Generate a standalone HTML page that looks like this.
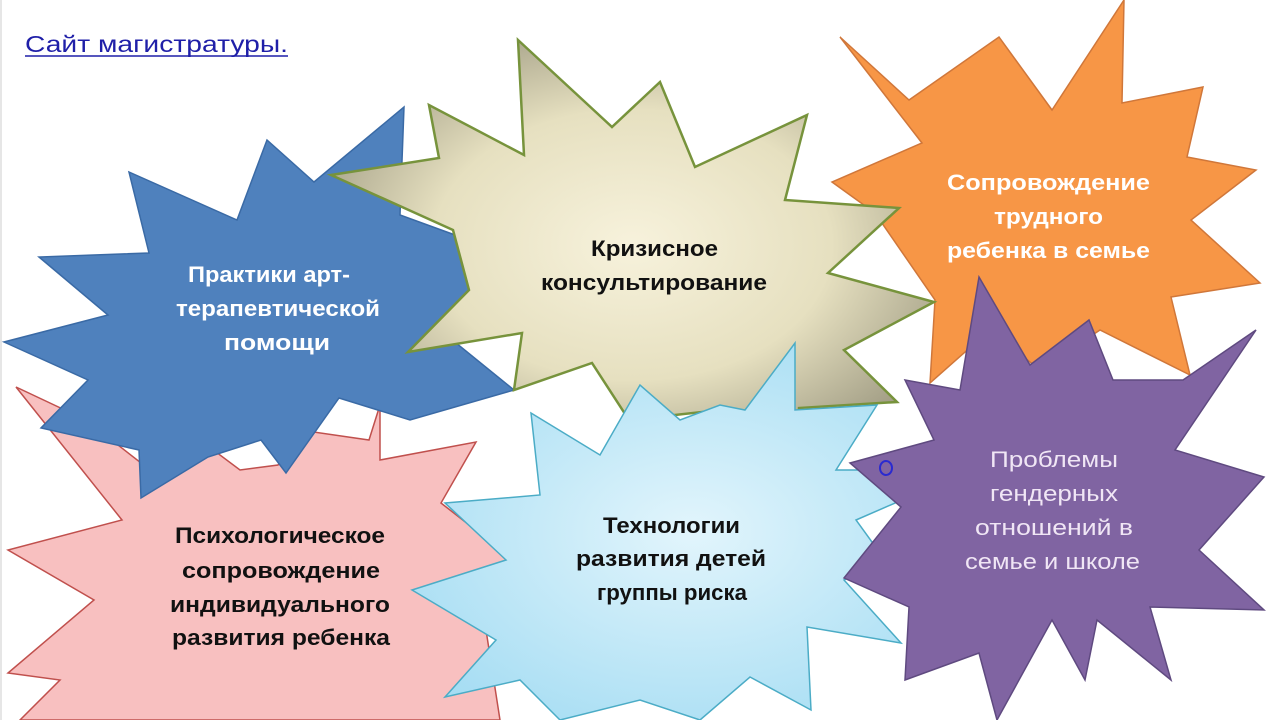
<!DOCTYPE html>
<html><head><meta charset="utf-8"><style>
html,body{margin:0;padding:0;background:#fff;}
svg{display:block;}
text{font-family:"Liberation Sans",sans-serif;}
</style></head><body>
<svg width="1280" height="720" viewBox="0 0 1280 720" xmlns="http://www.w3.org/2000/svg">
<defs>
<radialGradient id="bg" cx="0.5" cy="0.5" r="0.6">
<stop offset="0" stop-color="#f7f2dc"/><stop offset="0.55" stop-color="#e6e0c0"/><stop offset="1" stop-color="#9c9880"/>
</radialGradient>
<radialGradient id="lb" cx="0.5" cy="0.5" r="0.6">
<stop offset="0" stop-color="#e2f5fc"/><stop offset="1" stop-color="#a6ddf3"/>
</radialGradient>
</defs>
<rect x="0" y="0" width="1280" height="720" fill="#fff"/>
<line x1="1" y1="0" x2="1" y2="720" stroke="#ccc" stroke-width="1"/>
<text x="25" y="52" font-size="23" fill="#1f1fa8" textLength="263" lengthAdjust="spacingAndGlyphs">Сайт магистратуры.</text>
<line x1="25" y1="56" x2="288" y2="56" stroke="#1f1fa8" stroke-width="1.5"/>

<polygon fill="#f8c0c0" stroke="#c0504d" stroke-width="1.5" points="16,387 86,420 150,470 200,440 240,470 278,465 300,430 369,440 380,405 380,460 476,442 441,503 510,557 486,630 500,720 20,720 60,680 8,673 94,600 8,550 122,520"/>
<polygon fill="#4f81bd" stroke="#3a6aa5" stroke-width="1.5" points="404,107 400,215 455,235 470,290 440,330 514,390 410,420 339,398 286,473 261,440 208,457 141,498 139,450 41,428 88,380 4,342 108,315 39,257 149,253 129,172 237,220 267,140 314,182"/>
<polygon fill="#f79646" stroke="#d0773a" stroke-width="1.5" points="840,37 909,100 999,37 1052,110 1124,0 1122,103 1203,87 1187,157 1256,170 1191,220 1260,283 1171,297 1190,375 1100,330 1040,370 990,330 930,383 935,300 875,213 832,182 922,143"/>
<polygon fill="url(#bg)" stroke="#77933c" stroke-width="2.5" points="518,40 612,127 660,82 695,167 807,115 785,200 899,208 828,273 934,302 844,350 897,402 799,408 797,450 720,410 629,420 592,363 514,390 522,333 408,352 469,290 453,230 331,175 439,158 429,105 524,155"/>
<polygon fill="url(#lb)" stroke="#4bacc6" stroke-width="1.5" points="531,413 600,455 640,385 680,420 720,405 745,410 795,343 795,410 877,405 836,470 971,470 856,520 885,560 844,580 901,643 807,627 811,710 750,677 700,720 640,700 560,720 520,680 445,697 496,640 412,590 506,560 445,503 540,495"/>
<polygon fill="#8064a2" stroke="#5f4a80" stroke-width="1.5" points="979,277 1030,365 1089,320 1113,380 1183,380 1256,330 1175,450 1264,477 1199,550 1264,610 1150,607 1171,680 1097,620 1085,680 1052,620 997,720 979,653 905,680 909,607 844,578 901,507 850,463 934,440 905,380 960,390"/>
<ellipse cx="886" cy="468" rx="6" ry="7" fill="none" stroke="#2a2ad0" stroke-width="2"/>

<g font-size="22" font-weight="bold">
<g fill="#fff">
<text x="188" y="282" textLength="162" lengthAdjust="spacingAndGlyphs">Практики арт-</text>
<text x="176" y="316" textLength="204" lengthAdjust="spacingAndGlyphs">терапевтической</text>
<text x="224" y="350" textLength="106" lengthAdjust="spacingAndGlyphs">помощи</text></g>
<g fill="#111">
<text x="591" y="256" textLength="127" lengthAdjust="spacingAndGlyphs">Кризисное</text>
<text x="541" y="290" textLength="226" lengthAdjust="spacingAndGlyphs">консультирование</text></g>
<g fill="#fff">
<text x="947" y="190" textLength="203" lengthAdjust="spacingAndGlyphs">Сопровождение</text>
<text x="994" y="224" textLength="109" lengthAdjust="spacingAndGlyphs">трудного</text>
<text x="947" y="258" textLength="203" lengthAdjust="spacingAndGlyphs">ребенка в семье</text></g>
<g fill="#111">
<text x="175" y="543" textLength="210" lengthAdjust="spacingAndGlyphs">Психологическое</text>
<text x="182" y="578" textLength="198" lengthAdjust="spacingAndGlyphs">сопровождение</text>
<text x="170" y="612" textLength="220" lengthAdjust="spacingAndGlyphs">индивидуального</text>
<text x="172" y="645" textLength="218" lengthAdjust="spacingAndGlyphs">развития ребенка</text></g>
<g fill="#111">
<text x="603" y="533" textLength="137" lengthAdjust="spacingAndGlyphs">Технологии</text>
<text x="576" y="566" textLength="190" lengthAdjust="spacingAndGlyphs">развития детей</text>
<text x="597" y="600" textLength="150" lengthAdjust="spacingAndGlyphs">группы риска</text></g>
</g>
<g font-size="22" fill="#f0e6f5">
<text x="990" y="467" textLength="128" lengthAdjust="spacingAndGlyphs">Проблемы</text>
<text x="990" y="501" textLength="128" lengthAdjust="spacingAndGlyphs">гендерных</text>
<text x="975" y="535" textLength="158" lengthAdjust="spacingAndGlyphs">отношений в</text>
<text x="965" y="569" textLength="175" lengthAdjust="spacingAndGlyphs">семье и школе</text></g>
</svg>
</body></html>
